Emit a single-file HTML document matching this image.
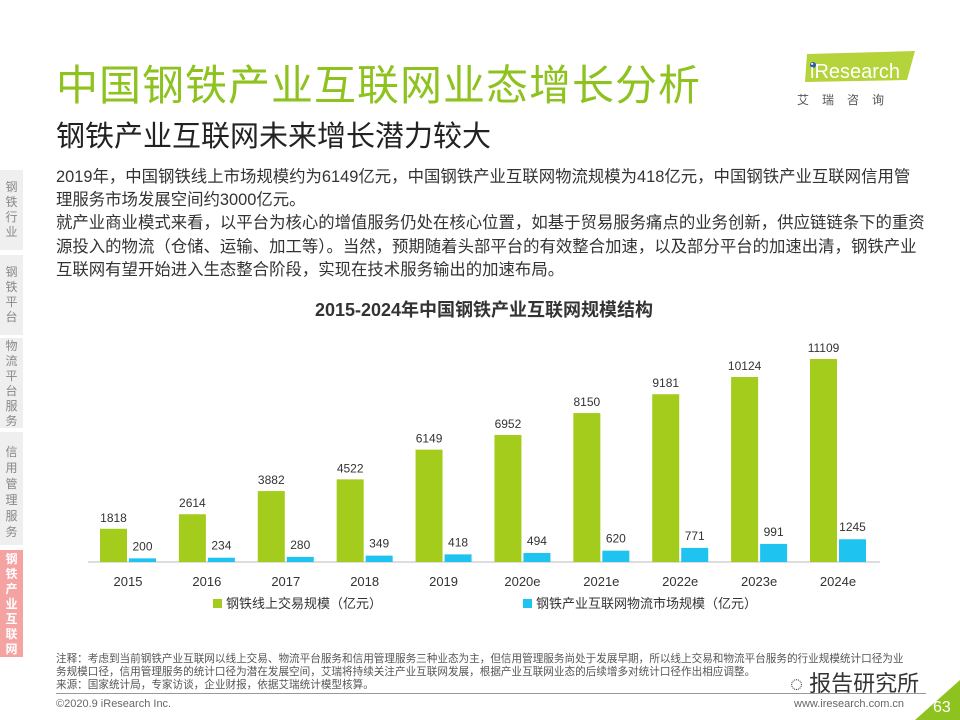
<!DOCTYPE html>
<html><head><meta charset="utf-8"><style>
body{margin:0;width:960px;height:720px;background:#fff;position:relative;overflow:hidden;font-family:"Liberation Sans","Noto Sans CJK SC",sans-serif;}
.a{position:absolute;}
.tab{position:absolute;left:0;width:23px;background:#efefef;color:#888;font-size:12px;line-height:15px;text-align:center;box-sizing:border-box;padding-top:6px;}
</style></head><body>
<div class="a" style="left:56px;top:52px;font-size:42px;color:#8dc21f;letter-spacing:1px;">中国钢铁产业互联网业态增长分析</div>
<div class="a" style="left:56px;top:113px;font-size:29px;color:#222;">钢铁产业互联网未来增长潜力较大</div>
<div class="a" style="left:785px;top:48px;width:135px;height:62px;">
<svg width="135" height="62"><polygon points="22,6 130,3 122,32 20,34" fill="#b5d33a"/><circle cx="28" cy="17" r="3" fill="#2d5fa8"/><text x="25" y="30" font-size="20" fill="#fff" font-family="Liberation Sans">iResearch</text><text x="12" y="56" font-size="12" fill="#555" letter-spacing="13">艾瑞咨询</text></svg></div>
<div class="a" style="left:56px;top:166px;width:900px;font-size:16.4px;line-height:23.2px;color:#333;white-space:nowrap;">2019年，中国钢铁线上市场规模约为6149亿元，中国钢铁产业互联网物流规模为418亿元，中国钢铁产业互联网信用管<br>理服务市场发展空间约3000亿元。<br>就产业商业模式来看，以平台为核心的增值服务仍处在核心位置，如基于贸易服务痛点的业务创新，供应链链条下的重资<br>源投入的物流（仓储、运输、加工等）。当然，预期随着头部平台的有效整合加速，以及部分平台的加速出清，钢铁产业<br>互联网有望开始进入生态整合阶段，实现在技术服务输出的加速布局。</div>
<div class="tab" style="top:170px;height:80px;padding-top:10px;">钢铁行业</div>
<div class="tab" style="top:255px;height:80px;padding-top:10px;">钢铁平台</div>
<div class="tab" style="top:338px;height:90px;padding-top:1px;">物流平台服务</div>
<div class="tab" style="top:432px;height:113px;padding-top:12px;line-height:16px;">信用管理服务</div>
<div class="tab" style="top:550px;height:107px;background:#f4a2a2;color:#fff;padding-top:2px;font-weight:bold;line-height:15px;">钢铁产业互联网</div>
<svg class="a" style="left:0;top:290px" width="960" height="330" id="chart"></svg>
<div class="a" style="left:56px;top:653px;width:900px;font-size:10.6px;line-height:13px;color:#555;white-space:nowrap;">注释：考虑到当前钢铁产业互联网以线上交易、物流平台服务和信用管理服务三种业态为主，但信用管理服务尚处于发展早期，所以线上交易和物流平台服务的行业规模统计口径为业<br>务规模口径，信用管理服务的统计口径为潜在发展空间，艾瑞将持续关注产业互联网发展，根据产业互联网业态的后续增多对统计口径作出相应调整。<br>来源：国家统计局，专家访谈，企业财报，依据艾瑞统计模型核算。</div>
<div class="a" style="left:56px;top:693px;width:870px;height:1px;background:#999;"></div>
<div class="a" style="left:790px;top:666px;font-size:22px;color:#333;">◌ 报告研究所</div>
<div class="a" style="left:56px;top:698px;font-size:11px;color:#666;">©2020.9 iResearch Inc.</div>
<div class="a" style="left:794px;top:698px;font-size:11px;color:#666;">www.iresearch.com.cn</div>
<svg class="a" style="left:915px;top:680px" width="45" height="40"><polygon points="45,0 45,40 0,40" fill="#8dc21f"/><text x="18" y="32" font-size="16" fill="#fff" font-family="Liberation Sans">63</text></svg>
<script>
const categories=["2015","2016","2017","2018","2019","2020e","2021e","2022e","2023e","2024e"];
const onlineTrade=[1818,2614,3882,4522,6149,6952,8150,9181,10124,11109];
const logistics=[200,234,280,349,418,494,620,771,991,1245];
const seriesNames=["钢铁线上交易规模（亿元）","钢铁产业互联网物流市场规模（亿元）"];
const NS="http://www.w3.org/2000/svg";
const svg=document.getElementById('chart');
const base=272, k=203/11109, x0=128, step=(838-128)/9, bw=27;
const y=v=>base-v*k, xc=i=>x0+i*step;
function mk(t,a,txt){const e=document.createElementNS(NS,t);for(const n in a)e.setAttribute(n,a[n]);if(txt!==undefined)e.textContent=txt;svg.appendChild(e);return e;}
let e=mk('text',{x:484,y:26,'text-anchor':'middle','font-size':18,'font-weight':'bold',fill:'#333'},'2015-2024年中国钢铁产业互联网规模结构');


e=mk('line',{x1:88,x2:880,y1:base,y2:base,stroke:'#bbb'});


categories.forEach((c,i)=>{
 let r=mk('rect',{x:xc(i)-bw-1,y:y(onlineTrade[i]),width:bw,height:onlineTrade[i]*k,fill:'#a4cc1c'});
 
 
 let t=mk('text',{x:xc(i)-bw/2-1,y:y(onlineTrade[i])-7,'text-anchor':'middle','font-size':12,fill:'#333'},onlineTrade[i]);
 
 
 r=mk('rect',{x:xc(i)+1,y:y(logistics[i]),width:bw,height:logistics[i]*k,fill:'#1fc3f0'});
 
 
 t=mk('text',{x:xc(i)+bw/2+1,y:y(logistics[i])-8,'text-anchor':'middle','font-size':12,fill:'#333'},logistics[i]);
 
 
 t=mk('text',{x:xc(i),y:base+24,'text-anchor':'middle','font-size':13,fill:'#333'},c);
 
 
});
const cols=['#a4cc1c','#1fc3f0'],lx=[213,523];
seriesNames.forEach((n,i)=>{
 let r=mk('rect',{x:lx[i],y:309,width:9,height:9,fill:cols[i]});
 
 
 let t=mk('text',{x:lx[i]+13,y:318,'font-size':13,fill:'#333'},n);
 
 
});
</script>
</body></html>
